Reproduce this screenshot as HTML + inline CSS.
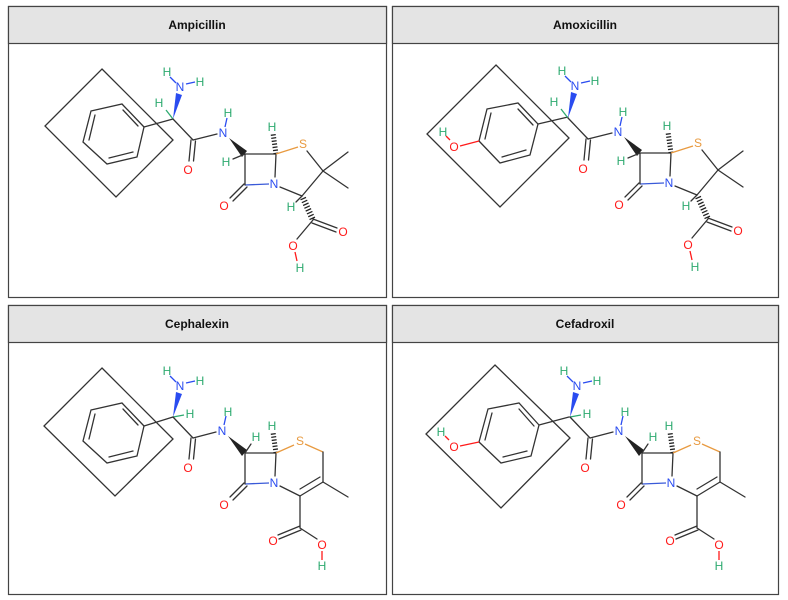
<!DOCTYPE html>
<html><head><meta charset="utf-8"><style>
html,body{margin:0;padding:0;background:#fff;}
svg{display:block;}
text{font-family:"Liberation Sans",sans-serif;font-size:12px;}
.b{stroke:#333;stroke-width:1.3;fill:none;stroke-linecap:round;}
.n{fill:#2a4cf0;}.o{fill:#ff1a1a;}.s{fill:#e89a40;}.h{fill:#2eaa70;}
.t{font-weight:bold;font-size:12px;fill:#111;}
</style></head><body>
<svg width="788" height="600" viewBox="0 0 788 600" xmlns="http://www.w3.org/2000/svg">
<defs></defs>
<!-- panels -->
<g stroke="#444" stroke-width="1.2">
<rect x="8.5" y="6.5" width="378" height="291" fill="#fff"/>
<rect x="8.5" y="6.5" width="378" height="37" fill="#e4e4e4"/>
<rect x="392.5" y="6.5" width="386" height="291" fill="#fff"/>
<rect x="392.5" y="6.5" width="386" height="37" fill="#e4e4e4"/>
<rect x="8.5" y="305.5" width="378" height="289" fill="#fff"/>
<rect x="8.5" y="305.5" width="378" height="37" fill="#e4e4e4"/>
<rect x="392.5" y="305.5" width="386" height="289" fill="#fff"/>
<rect x="392.5" y="305.5" width="386" height="37" fill="#e4e4e4"/>
</g>
<text class="t" x="197" y="29" text-anchor="middle">Ampicillin</text>
<text class="t" x="585" y="29" text-anchor="middle">Amoxicillin</text>
<text class="t" x="197" y="328" text-anchor="middle">Cephalexin</text>
<text class="t" x="585" y="328" text-anchor="middle">Cefadroxil</text>

<!-- ===== Ampicillin ===== -->
<g>
<polygon class="b" points="102,69 173,140 116,197 45,126"/>
<polygon class="b" points="91,111 122,104 144,127 137,157 107,164 83,142"/>
<line class="b" x1="123" y1="110" x2="138" y2="126"/><line class="b" x1="133" y1="152" x2="109" y2="158"/><line class="b" x1="89" y1="140" x2="95" y2="115"/>
<line class="b" x1="144" y1="127" x2="173" y2="119"/>
<polygon class="n" points="173,119 176,93 182,95"/>
<line x1="173" y1="119" x2="166" y2="110" stroke="#2eaa70" stroke-width="1.3"/>
<line x1="176" y1="83" x2="170" y2="77" stroke="#2a4cf0" stroke-width="1.3"/><line x1="186" y1="84" x2="195" y2="82" stroke="#2a4cf0" stroke-width="1.3"/>
<line class="b" x1="173" y1="119" x2="193" y2="140"/>
<line class="b" x1="191" y1="140" x2="189" y2="161"/><line class="b" x1="195.5" y1="141" x2="193.5" y2="161"/>
<line class="b" x1="193" y1="140" x2="217" y2="134"/>
<line x1="225" y1="127" x2="227" y2="118" stroke="#2a4cf0" stroke-width="1.3"/>
<polygon fill="#222" points="229,138 242,157 247,151"/>
</g>
<g id="pen1">
<line class="b" x1="245" y1="154" x2="233" y2="159"/>
<line class="b" x1="245" y1="154" x2="276" y2="154"/>
<line class="b" x1="276" y1="154" x2="275" y2="177"/>
<line x1="269" y1="184" x2="245" y2="185" stroke="#3a5ad8" stroke-width="1.3"/>
<line class="b" x1="245" y1="185" x2="245" y2="154"/>
<line class="b" x1="244" y1="184" x2="230" y2="198"/><line class="b" x1="247" y1="187" x2="233" y2="201"/>
<line x1="276" y1="154" x2="273" y2="133" stroke="#222" stroke-width="5" stroke-dasharray="1.3 1.8"/>
<line x1="276" y1="154" x2="298" y2="147" stroke="#e89a40" stroke-width="1.3"/>
<line class="b" x1="307" y1="151" x2="323" y2="171"/>
<line class="b" x1="323" y1="171" x2="348" y2="152"/><line class="b" x1="323" y1="171" x2="348" y2="188"/>
<line class="b" x1="323" y1="171" x2="302" y2="196"/>
<line class="b" x1="302" y1="196" x2="280" y2="187"/>
<line class="b" x1="302" y1="196" x2="296" y2="202"/>
<line x1="303" y1="198" x2="313" y2="220" stroke="#222" stroke-width="6" stroke-dasharray="1.3 1.8"/>
<line class="b" x1="313" y1="219" x2="337" y2="228"/><line class="b" x1="312" y1="223" x2="336" y2="232"/>
<line class="b" x1="313" y1="220" x2="297" y2="239"/>
<line x1="295" y1="252" x2="297" y2="261" stroke="#ff1a1a" stroke-width="1.3"/>
</g>
<g text-anchor="middle">
<text class="h" x="167" y="76">H</text><text class="n" x="180" y="91">N</text><text class="h" x="200" y="86">H</text>
<text class="h" x="159" y="107">H</text><text class="o" x="188" y="174">O</text>
<text class="n" x="223" y="137">N</text><text class="h" x="228" y="117">H</text>
<text class="h" x="226" y="166">H</text><text class="h" x="272" y="131">H</text>
<text class="s" x="303" y="148">S</text><text class="n" x="274" y="188">N</text>
<text class="o" x="224" y="210">O</text><text class="h" x="291" y="211">H</text>
<text class="o" x="343" y="236">O</text><text class="o" x="293" y="250">O</text><text class="h" x="300" y="272">H</text>
</g>

<!-- ===== Amoxicillin ===== -->
<g>
<polygon class="b" points="496,65 569,138 500,207 427,134"/>
<polygon class="b" points="487,109 518,103 538,124 530,155 500,163 479,141"/>
<line class="b" x1="518" y1="109" x2="533" y2="125"/><line class="b" x1="526" y1="150" x2="502" y2="157"/><line class="b" x1="485" y1="139" x2="491" y2="113"/>
<line class="b" x1="538" y1="124" x2="568" y2="117"/>
<line x1="479" y1="141" x2="460" y2="146" stroke="#ff1a1a" stroke-width="1.3"/>
<line x1="450" y1="140" x2="446" y2="136" stroke="#ff1a1a" stroke-width="1.3"/>
<text class="o" x="454" y="151" text-anchor="middle">O</text><text class="h" x="443" y="136" text-anchor="middle">H</text>
</g>
<g transform="translate(395,-1)">
<polygon class="n" points="173,119 176,93 182,95"/>
<line x1="173" y1="119" x2="166" y2="110" stroke="#2eaa70" stroke-width="1.3"/>
<line x1="176" y1="83" x2="170" y2="77" stroke="#2a4cf0" stroke-width="1.3"/><line x1="186" y1="84" x2="195" y2="82" stroke="#2a4cf0" stroke-width="1.3"/>
<line class="b" x1="173" y1="119" x2="193" y2="140"/>
<line class="b" x1="191" y1="140" x2="189" y2="161"/><line class="b" x1="195.5" y1="141" x2="193.5" y2="161"/>
<line class="b" x1="193" y1="140" x2="217" y2="134"/>
<line x1="225" y1="127" x2="227" y2="118" stroke="#2a4cf0" stroke-width="1.3"/>
<polygon fill="#222" points="229,138 242,157 247,151"/>
<line class="b" x1="245" y1="154" x2="233" y2="159"/>
<line class="b" x1="245" y1="154" x2="276" y2="154"/>
<line class="b" x1="276" y1="154" x2="275" y2="177"/>
<line x1="269" y1="184" x2="245" y2="185" stroke="#3a5ad8" stroke-width="1.3"/>
<line class="b" x1="245" y1="185" x2="245" y2="154"/>
<line class="b" x1="244" y1="184" x2="230" y2="198"/><line class="b" x1="247" y1="187" x2="233" y2="201"/>
<line x1="276" y1="154" x2="273" y2="133" stroke="#222" stroke-width="5" stroke-dasharray="1.3 1.8"/>
<line x1="276" y1="154" x2="298" y2="147" stroke="#e89a40" stroke-width="1.3"/>
<line class="b" x1="307" y1="151" x2="323" y2="171"/>
<line class="b" x1="323" y1="171" x2="348" y2="152"/><line class="b" x1="323" y1="171" x2="348" y2="188"/>
<line class="b" x1="323" y1="171" x2="302" y2="196"/>
<line class="b" x1="302" y1="196" x2="280" y2="187"/>
<line class="b" x1="302" y1="196" x2="296" y2="202"/>
<line x1="303" y1="198" x2="313" y2="220" stroke="#222" stroke-width="6" stroke-dasharray="1.3 1.8"/>
<line class="b" x1="313" y1="219" x2="337" y2="228"/><line class="b" x1="312" y1="223" x2="336" y2="232"/>
<line class="b" x1="313" y1="220" x2="297" y2="239"/>
<line x1="295" y1="252" x2="297" y2="261" stroke="#ff1a1a" stroke-width="1.3"/>
<g text-anchor="middle">
<text class="h" x="167" y="76">H</text><text class="n" x="180" y="91">N</text><text class="h" x="200" y="86">H</text>
<text class="h" x="159" y="107">H</text><text class="o" x="188" y="174">O</text>
<text class="n" x="223" y="137">N</text><text class="h" x="228" y="117">H</text>
<text class="h" x="226" y="166">H</text><text class="h" x="272" y="131">H</text>
<text class="s" x="303" y="148">S</text><text class="n" x="274" y="188">N</text>
<text class="o" x="224" y="210">O</text><text class="h" x="291" y="211">H</text>
<text class="o" x="343" y="236">O</text><text class="o" x="293" y="250">O</text><text class="h" x="300" y="272">H</text>
</g>
</g>

<!-- ===== Cephalexin ===== -->
<g>
<polygon class="b" points="102,368 173,439 115,496 44,426"/>
<polygon class="b" points="91,410 122,403 144,426 137,456 107,463 83,441"/>
<line class="b" x1="123" y1="409" x2="138" y2="425"/><line class="b" x1="133" y1="451" x2="109" y2="457"/><line class="b" x1="89" y1="439" x2="95" y2="414"/>
<line class="b" x1="144" y1="426" x2="173" y2="417"/>
</g>
<g id="ceph">
<polygon class="n" points="173,417 176,392 182,394"/>
<line x1="173" y1="417" x2="184" y2="415" stroke="#2eaa70" stroke-width="1.3"/>
<line x1="176" y1="382" x2="170" y2="376" stroke="#2a4cf0" stroke-width="1.3"/><line x1="186" y1="383" x2="195" y2="381" stroke="#2a4cf0" stroke-width="1.3"/>
<line class="b" x1="173" y1="417" x2="193" y2="438"/>
<line class="b" x1="191" y1="438" x2="189" y2="459"/><line class="b" x1="195.5" y1="439" x2="193.5" y2="459"/>
<line class="b" x1="193" y1="438" x2="216" y2="432"/>
<line x1="224" y1="425" x2="226" y2="416" stroke="#2a4cf0" stroke-width="1.3"/>
<polygon fill="#222" points="228,436 242,456 247,450"/>
<line class="b" x1="245" y1="453" x2="251" y2="444"/>
<line class="b" x1="245" y1="453" x2="276" y2="453"/>
<line class="b" x1="276" y1="453" x2="275" y2="476"/>
<line x1="269" y1="483" x2="245" y2="484" stroke="#3a5ad8" stroke-width="1.3"/>
<line class="b" x1="245" y1="484" x2="245" y2="453"/>
<line class="b" x1="244" y1="483" x2="230" y2="497"/><line class="b" x1="247" y1="486" x2="233" y2="500"/>
<line x1="276" y1="453" x2="273" y2="432" stroke="#222" stroke-width="5" stroke-dasharray="1.3 1.8"/>
<line x1="276" y1="453" x2="294" y2="445" stroke="#e89a40" stroke-width="1.3"/>
<line x1="305" y1="444" x2="323" y2="452" stroke="#e89a40" stroke-width="1.3"/>
<line class="b" x1="323" y1="452" x2="323" y2="482"/>
<line class="b" x1="323" y1="482" x2="300" y2="496"/><line class="b" x1="320" y1="477" x2="300" y2="489"/>
<line class="b" x1="323" y1="482" x2="348" y2="497"/>
<line class="b" x1="300" y1="496" x2="280" y2="486"/>
<line class="b" x1="300" y1="496" x2="300" y2="528"/>
<line class="b" x1="300" y1="526" x2="278" y2="535"/><line class="b" x1="301" y1="530" x2="279" y2="539"/>
<line class="b" x1="300" y1="528" x2="317" y2="539"/>
<line x1="322" y1="551" x2="322" y2="560" stroke="#ff1a1a" stroke-width="1.3"/>
<g text-anchor="middle">
<text class="h" x="167" y="375">H</text><text class="n" x="180" y="390">N</text><text class="h" x="200" y="385">H</text>
<text class="h" x="190" y="418">H</text><text class="o" x="188" y="472">O</text>
<text class="n" x="222" y="435">N</text><text class="h" x="228" y="416">H</text>
<text class="h" x="256" y="441">H</text><text class="h" x="272" y="430">H</text>
<text class="s" x="300" y="445">S</text><text class="n" x="274" y="487">N</text>
<text class="o" x="224" y="509">O</text>
<text class="o" x="273" y="545">O</text><text class="o" x="322" y="549">O</text><text class="h" x="322" y="570">H</text>
</g>
</g>

<!-- ===== Cefadroxil ===== -->
<g>
<polygon class="b" points="495,365 570,438 501,508 426,434"/>
<polygon class="b" points="488,409 519,403 539,425 531,456 501,463 479,442"/>
<line class="b" x1="519" y1="409" x2="534" y2="426"/><line class="b" x1="527" y1="451" x2="503" y2="457"/><line class="b" x1="485" y1="440" x2="492" y2="413"/>
<line class="b" x1="539" y1="425" x2="569" y2="417"/>
<line x1="479" y1="442" x2="460" y2="446" stroke="#ff1a1a" stroke-width="1.3"/>
<line x1="449" y1="440" x2="445" y2="436" stroke="#ff1a1a" stroke-width="1.3"/>
<text class="o" x="454" y="451" text-anchor="middle">O</text><text class="h" x="441" y="436" text-anchor="middle">H</text>
</g>
<g transform="translate(397,0)">
<polygon class="n" points="173,417 176,392 182,394"/>
<line x1="173" y1="417" x2="184" y2="415" stroke="#2eaa70" stroke-width="1.3"/>
<line x1="176" y1="382" x2="170" y2="376" stroke="#2a4cf0" stroke-width="1.3"/><line x1="186" y1="383" x2="195" y2="381" stroke="#2a4cf0" stroke-width="1.3"/>
<line class="b" x1="173" y1="417" x2="193" y2="438"/>
<line class="b" x1="191" y1="438" x2="189" y2="459"/><line class="b" x1="195.5" y1="439" x2="193.5" y2="459"/>
<line class="b" x1="193" y1="438" x2="216" y2="432"/>
<line x1="224" y1="425" x2="226" y2="416" stroke="#2a4cf0" stroke-width="1.3"/>
<polygon fill="#222" points="228,436 242,456 247,450"/>
<line class="b" x1="245" y1="453" x2="251" y2="444"/>
<line class="b" x1="245" y1="453" x2="276" y2="453"/>
<line class="b" x1="276" y1="453" x2="275" y2="476"/>
<line x1="269" y1="483" x2="245" y2="484" stroke="#3a5ad8" stroke-width="1.3"/>
<line class="b" x1="245" y1="484" x2="245" y2="453"/>
<line class="b" x1="244" y1="483" x2="230" y2="497"/><line class="b" x1="247" y1="486" x2="233" y2="500"/>
<line x1="276" y1="453" x2="273" y2="432" stroke="#222" stroke-width="5" stroke-dasharray="1.3 1.8"/>
<line x1="276" y1="453" x2="294" y2="445" stroke="#e89a40" stroke-width="1.3"/>
<line x1="305" y1="444" x2="323" y2="452" stroke="#e89a40" stroke-width="1.3"/>
<line class="b" x1="323" y1="452" x2="323" y2="482"/>
<line class="b" x1="323" y1="482" x2="300" y2="496"/><line class="b" x1="320" y1="477" x2="300" y2="489"/>
<line class="b" x1="323" y1="482" x2="348" y2="497"/>
<line class="b" x1="300" y1="496" x2="280" y2="486"/>
<line class="b" x1="300" y1="496" x2="300" y2="528"/>
<line class="b" x1="300" y1="526" x2="278" y2="535"/><line class="b" x1="301" y1="530" x2="279" y2="539"/>
<line class="b" x1="300" y1="528" x2="317" y2="539"/>
<line x1="322" y1="551" x2="322" y2="560" stroke="#ff1a1a" stroke-width="1.3"/>
<g text-anchor="middle">
<text class="h" x="167" y="375">H</text><text class="n" x="180" y="390">N</text><text class="h" x="200" y="385">H</text>
<text class="h" x="190" y="418">H</text><text class="o" x="188" y="472">O</text>
<text class="n" x="222" y="435">N</text><text class="h" x="228" y="416">H</text>
<text class="h" x="256" y="441">H</text><text class="h" x="272" y="430">H</text>
<text class="s" x="300" y="445">S</text><text class="n" x="274" y="487">N</text>
<text class="o" x="224" y="509">O</text>
<text class="o" x="273" y="545">O</text><text class="o" x="322" y="549">O</text><text class="h" x="322" y="570">H</text>
</g>
</g>
</svg>
</body></html>
